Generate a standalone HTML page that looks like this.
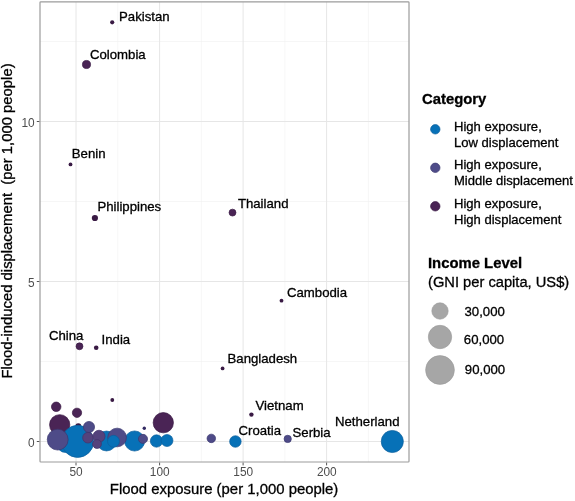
<!DOCTYPE html>
<html><head><meta charset="utf-8"><title>Flood exposure chart</title>
<style>html,body{margin:0;padding:0;background:#fff}text[fill="#000"]{stroke:#000;stroke-width:0.3px}</style></head>
<body>
<svg width="575" height="501" viewBox="0 0 575 501" style="display:block;font-family:'Liberation Sans',Arial,sans-serif">
<rect width="575" height="501" fill="#fff"/>
<line x1="117.8" x2="117.8" y1="1.8" y2="462.0" stroke="#f0f0f0" stroke-width="0.6"/>
<line x1="201.3" x2="201.3" y1="1.8" y2="462.0" stroke="#f0f0f0" stroke-width="0.6"/>
<line x1="284.9" x2="284.9" y1="1.8" y2="462.0" stroke="#f0f0f0" stroke-width="0.6"/>
<line x1="368.4" x2="368.4" y1="1.8" y2="462.0" stroke="#f0f0f0" stroke-width="0.6"/>
<line y1="361.5" y2="361.5" x1="40.0" x2="409.0" stroke="#f0f0f0" stroke-width="0.6"/>
<line y1="201.5" y2="201.5" x1="40.0" x2="409.0" stroke="#f0f0f0" stroke-width="0.6"/>
<line y1="41.5" y2="41.5" x1="40.0" x2="409.0" stroke="#f0f0f0" stroke-width="0.6"/>
<line x1="76.0" x2="76.0" y1="1.8" y2="462.0" stroke="#e6e6e6" stroke-width="1"/>
<line x1="159.6" x2="159.6" y1="1.8" y2="462.0" stroke="#e6e6e6" stroke-width="1"/>
<line x1="243.1" x2="243.1" y1="1.8" y2="462.0" stroke="#e6e6e6" stroke-width="1"/>
<line x1="326.6" x2="326.6" y1="1.8" y2="462.0" stroke="#e6e6e6" stroke-width="1"/>
<line y1="441.5" y2="441.5" x1="40.0" x2="409.0" stroke="#e6e6e6" stroke-width="1"/>
<line y1="281.5" y2="281.5" x1="40.0" x2="409.0" stroke="#e6e6e6" stroke-width="1"/>
<line y1="121.5" y2="121.5" x1="40.0" x2="409.0" stroke="#e6e6e6" stroke-width="1"/>
<circle cx="56.2" cy="406.8" r="4.75" fill="#4a2455" stroke="#391a44" stroke-width="0.7"/>
<circle cx="77" cy="412.8" r="4.65" fill="#4a2455" stroke="#391a44" stroke-width="0.7"/>
<circle cx="59.7" cy="424.8" r="10.15" fill="#4a2455" stroke="#391a44" stroke-width="0.7"/>
<circle cx="78.3" cy="426.3" r="3" fill="#391a44"/>
<circle cx="65.5" cy="443.8" r="8.65" fill="#0771b7" stroke="#0b5f9c" stroke-width="0.7"/>
<circle cx="77.6" cy="441.4" r="16.05" fill="#0771b7" stroke="#0b5f9c" stroke-width="0.7"/>
<circle cx="163.3" cy="422.7" r="10.15" fill="#4a2455" stroke="#391a44" stroke-width="0.7"/>
<circle cx="89" cy="427" r="5.55" fill="#4e4b88" stroke="#3b3870" stroke-width="0.7"/>
<circle cx="106.5" cy="441" r="9.95" fill="#0771b7" stroke="#0b5f9c" stroke-width="0.7"/>
<circle cx="134.6" cy="441" r="10.05" fill="#0771b7" stroke="#0b5f9c" stroke-width="0.7"/>
<circle cx="88" cy="437.7" r="5.35" fill="#54427c" stroke="#43336a" stroke-width="0.7"/>
<circle cx="99" cy="436.3" r="6.05" fill="#54427c" stroke="#43336a" stroke-width="0.7"/>
<circle cx="97" cy="444" r="4.45" fill="#54427c" stroke="#43336a" stroke-width="0.7"/>
<circle cx="117.1" cy="437.5" r="9.35" fill="#4e4b88" stroke="#3b3870" stroke-width="0.7"/>
<circle cx="113.5" cy="441.3" r="5.95" fill="#0771b7" stroke="#0b5f9c" stroke-width="0.7"/>
<circle cx="143" cy="438.9" r="4.55" fill="#4e4b88" stroke="#3b3870" stroke-width="0.7"/>
<circle cx="156.5" cy="441" r="6.15" fill="#0771b7" stroke="#0b5f9c" stroke-width="0.7"/>
<circle cx="167" cy="440.5" r="5.95" fill="#0771b7" stroke="#0b5f9c" stroke-width="0.7"/>
<circle cx="57.7" cy="439.6" r="10.45" fill="#4e4b88" stroke="#3b3870" stroke-width="0.7"/>
<circle cx="144.3" cy="428.2" r="1.7" fill="#322a62"/>
<circle cx="112.3" cy="400" r="1.9" fill="#391a44"/>
<circle cx="211.3" cy="438.4" r="4.25" fill="#4e4b88" stroke="#3b3870" stroke-width="0.7"/>
<circle cx="235.4" cy="441.5" r="5.75" fill="#0771b7" stroke="#0b5f9c" stroke-width="0.7"/>
<circle cx="287.7" cy="438.9" r="3.65" fill="#4e4b88" stroke="#3b3870" stroke-width="0.7"/>
<circle cx="392.3" cy="441.5" r="11.05" fill="#0771b7" stroke="#0b5f9c" stroke-width="0.7"/>
<circle cx="112.2" cy="22.3" r="2.1" fill="#391a44"/>
<circle cx="86.5" cy="64.5" r="4.05" fill="#4a2455" stroke="#391a44" stroke-width="0.7"/>
<circle cx="70.5" cy="164.4" r="1.9" fill="#391a44"/>
<circle cx="94.9" cy="218" r="3.1" fill="#391a44"/>
<circle cx="232.5" cy="212.6" r="3.45" fill="#4a2455" stroke="#391a44" stroke-width="0.7"/>
<circle cx="281.5" cy="300.7" r="1.9" fill="#391a44"/>
<circle cx="79.5" cy="346.3" r="3.45" fill="#4a2455" stroke="#391a44" stroke-width="0.7"/>
<circle cx="96.2" cy="347.8" r="2.3" fill="#391a44"/>
<circle cx="222.6" cy="368.4" r="1.9" fill="#391a44"/>
<circle cx="251.4" cy="414.6" r="2.2" fill="#391a44"/>
<rect x="40.0" y="1.8" width="369.0" height="460.2" fill="none" stroke="#9c9c9c" stroke-width="1.2" rx="0.8"/>
<line x1="76.0" x2="76.0" y1="462.6" y2="465.4" stroke="#555" stroke-width="1"/>
<text transform="translate(76.1,476.3) scale(0.88,1)" font-size="13.5" fill="#4d4d4d" text-anchor="middle">50</text>
<line x1="159.6" x2="159.6" y1="462.6" y2="465.4" stroke="#555" stroke-width="1"/>
<text transform="translate(159.7,476.3) scale(0.88,1)" font-size="13.5" fill="#4d4d4d" text-anchor="middle">100</text>
<line x1="243.1" x2="243.1" y1="462.6" y2="465.4" stroke="#555" stroke-width="1"/>
<text transform="translate(243.2,476.3) scale(0.88,1)" font-size="13.5" fill="#4d4d4d" text-anchor="middle">150</text>
<line x1="326.6" x2="326.6" y1="462.6" y2="465.4" stroke="#555" stroke-width="1"/>
<text transform="translate(326.8,476.3) scale(0.88,1)" font-size="13.5" fill="#4d4d4d" text-anchor="middle">200</text>
<line y1="441.5" y2="441.5" x1="36.8" x2="39.4" stroke="#555" stroke-width="1"/>
<text transform="translate(34.6,446.5) scale(0.88,1)" font-size="13.5" fill="#4d4d4d" text-anchor="end">0</text>
<line y1="281.5" y2="281.5" x1="36.8" x2="39.4" stroke="#555" stroke-width="1"/>
<text transform="translate(34.6,286.5) scale(0.88,1)" font-size="13.5" fill="#4d4d4d" text-anchor="end">5</text>
<line y1="121.5" y2="121.5" x1="36.8" x2="39.4" stroke="#555" stroke-width="1"/>
<text transform="translate(34.6,126.5) scale(0.88,1)" font-size="13.5" fill="#4d4d4d" text-anchor="end">10</text>
<text x="224.1" y="494.3" font-size="14.9" fill="#000" text-anchor="middle">Flood exposure (per 1,000 people)</text>
<text transform="translate(12.0,221) rotate(-90)" font-size="14.85" fill="#000" text-anchor="middle">Flood-induced displacement&#160;&#160;(per 1,000 people)</text>
<text x="119" y="21" font-size="13.2" fill="#000">Pakistan</text>
<text x="90" y="58.5" font-size="13.2" fill="#000">Colombia</text>
<text x="71.8" y="158.2" font-size="13.2" fill="#000">Benin</text>
<text x="97.4" y="210.8" font-size="13.2" fill="#000">Philippines</text>
<text x="237.9" y="208" font-size="13.2" fill="#000">Thailand</text>
<text x="287" y="297" font-size="13.2" fill="#000">Cambodia</text>
<text x="49" y="340.2" font-size="13.2" fill="#000">China</text>
<text x="101.6" y="343.7" font-size="13.2" fill="#000">India</text>
<text x="227.5" y="362.5" font-size="13.2" fill="#000">Bangladesh</text>
<text x="255.5" y="410" font-size="13.2" fill="#000">Vietnam</text>
<text x="238.5" y="435" font-size="13.2" fill="#000">Croatia</text>
<text x="292.5" y="436.6" font-size="13.2" fill="#000">Serbia</text>
<text x="335" y="425.5" font-size="13.2" fill="#000">Netherland</text>
<text x="422" y="104.4" font-size="14.85" font-weight="bold" fill="#000">Category</text>
<circle cx="435.3" cy="129.3" r="4.7" fill="#0771b7" stroke="#0b5f9c" stroke-width="0.7"/>
<text x="454" y="130.9" font-size="13.05" fill="#000">High exposure,</text>
<text x="454" y="146.9" font-size="13.05" fill="#000">Low displacement</text>
<circle cx="435.3" cy="167.8" r="4.7" fill="#4e4b88" stroke="#3b3870" stroke-width="0.7"/>
<text x="454" y="169.4" font-size="13.05" fill="#000">High exposure,</text>
<text x="454" y="185.4" font-size="13.05" fill="#000">Middle displacement</text>
<circle cx="435.3" cy="206.3" r="4.7" fill="#4a2455" stroke="#391a44" stroke-width="0.7"/>
<text x="454" y="207.9" font-size="13.05" fill="#000">High exposure,</text>
<text x="454" y="223.9" font-size="13.05" fill="#000">High displacement</text>
<text x="428" y="267.7" font-size="14.85" font-weight="bold" fill="#000">Income Level</text>
<text x="428" y="287" font-size="14.7" fill="#000">(GNI per capita, US$)</text>
<circle cx="440" cy="311" r="8.2" fill="#a6a6a6" stroke="#9a9a9a" stroke-width="0.6"/>
<text x="464.5" y="316.2" font-size="13.2" fill="#000">30,000</text>
<circle cx="440" cy="337" r="11.7" fill="#a6a6a6" stroke="#9a9a9a" stroke-width="0.6"/>
<text x="463.8" y="344" font-size="13.2" fill="#000">60,000</text>
<circle cx="440" cy="370" r="14.4" fill="#a6a6a6" stroke="#9a9a9a" stroke-width="0.6"/>
<text x="464.8" y="374.2" font-size="13.2" fill="#000">90,000</text>
</svg>
</body></html>
